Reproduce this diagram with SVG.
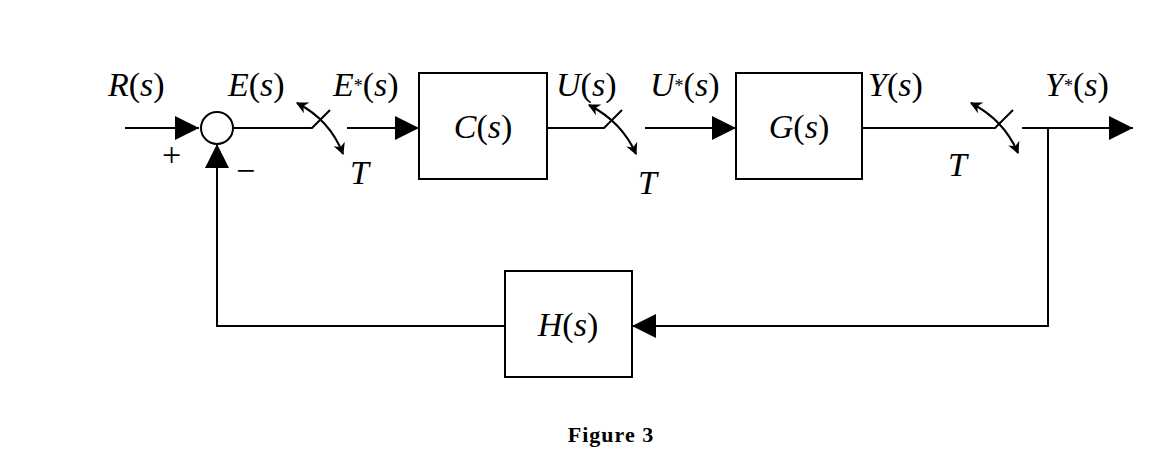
<svg xmlns="http://www.w3.org/2000/svg" width="1161" height="457" viewBox="0 0 1161 457">
<defs>
<marker id="a" viewBox="0 0 10 10" refX="10" refY="5" markerWidth="24" markerHeight="24" markerUnits="userSpaceOnUse" orient="auto"><path d="M0,0L10,5L0,10z" fill="#000"/></marker>
<marker id="s" viewBox="0 0 10 10" refX="9" refY="5" markerWidth="12" markerHeight="12" markerUnits="userSpaceOnUse" orient="auto"><path d="M0,0L10,5L0,10L3,5z" fill="#000"/></marker>
<marker id="s0" viewBox="0 0 10 10" refX="9" refY="5" markerWidth="12" markerHeight="12" markerUnits="userSpaceOnUse" orient="auto-start-reverse"><path d="M0,0L10,5L0,10L3,5z" fill="#000"/></marker>
</defs>
<style>
.l{stroke:#000;stroke-width:2;fill:none}
.b{stroke:#000;stroke-width:2;fill:#fff}
.t{font-family:"Liberation Serif",serif;font-style:italic;font-size:34px}
.u{font-family:"Liberation Serif",serif;font-style:normal;font-size:34px}
.k{font-family:"Liberation Serif",serif;font-style:normal;font-size:18px}
.c{font-family:"Liberation Serif",serif;font-size:22px;font-weight:bold;letter-spacing:1px}
</style>
<rect width="1161" height="457" fill="#fff"/>
<g id="connectors">
<path class="l" d="M125,128H199" marker-end="url(#a)"/>
<path class="l" d="M233,128H312L330,110"/>
<path class="l" d="M297,103Q330,120 343,154" marker-start="url(#s0)" marker-end="url(#s)"/>
<path class="l" d="M347,128H419" marker-end="url(#a)"/>
<path class="l" d="M547,128H604L622,110"/>
<path class="l" d="M589,105Q622,122 636,154" marker-start="url(#s0)" marker-end="url(#s)"/>
<path class="l" d="M645,128H736" marker-end="url(#a)"/>
<path class="l" d="M862,128H995L1013,110"/>
<path class="l" d="M971,103Q1004,120 1018,153" marker-start="url(#s0)" marker-end="url(#s)"/>
<path class="l" d="M1022,128H1133" marker-end="url(#a)"/>
<path class="l" d="M1048,128V326H632" marker-end="url(#a)"/>
<path class="l" d="M505,326H217V144" marker-end="url(#a)"/>
</g>
<g id="sum"><circle class="b" cx="217" cy="128" r="16"/></g>
<g id="C"><rect class="b" x="419" y="73" width="128" height="106"/><text class="t" x="483" y="138" text-anchor="middle">C<tspan class="u">(</tspan>s<tspan class="u">)</tspan></text></g>
<g id="G"><rect class="b" x="736" y="73" width="126" height="106"/><text class="t" x="799" y="138" text-anchor="middle">G<tspan class="u">(</tspan>s<tspan class="u">)</tspan></text></g>
<g id="H"><rect class="b" x="505" y="271" width="127" height="106"/><text class="t" x="568" y="336" text-anchor="middle">H<tspan class="u">(</tspan>s<tspan class="u">)</tspan></text></g>
<g id="labels">
<text class="t" x="108" y="96">R<tspan class="u">(</tspan>s<tspan class="u">)</tspan></text>
<text class="t" x="228" y="96">E<tspan class="u">(</tspan>s<tspan class="u">)</tspan></text>
<text class="t" x="333" y="96">E<tspan class="k" dy="-4">*</tspan><tspan class="u" dy="4">(</tspan>s<tspan class="u">)</tspan></text>
<text class="t" x="556" y="96">U<tspan class="u">(</tspan>s<tspan class="u">)</tspan></text>
<text class="t" x="650" y="96">U<tspan class="k" dy="-4">*</tspan><tspan class="u" dy="4">(</tspan>s<tspan class="u">)</tspan></text>
<text class="t" x="868" y="96">Y<tspan class="u">(</tspan>s<tspan class="u">)</tspan></text>
<text class="t" x="1045" y="96">Y<tspan class="k" dy="-4">*</tspan><tspan class="u" dy="4">(</tspan>s<tspan class="u">)</tspan></text>
<text class="t" x="350" y="184">T</text>
<text class="t" x="638" y="194">T</text>
<text class="t" x="948" y="176">T</text>
<text class="u" x="162" y="166">+</text>
<text class="u" x="236" y="182">−</text>
<text class="c" x="611" y="442" text-anchor="middle">Figure 3</text>
</g>
</svg>
